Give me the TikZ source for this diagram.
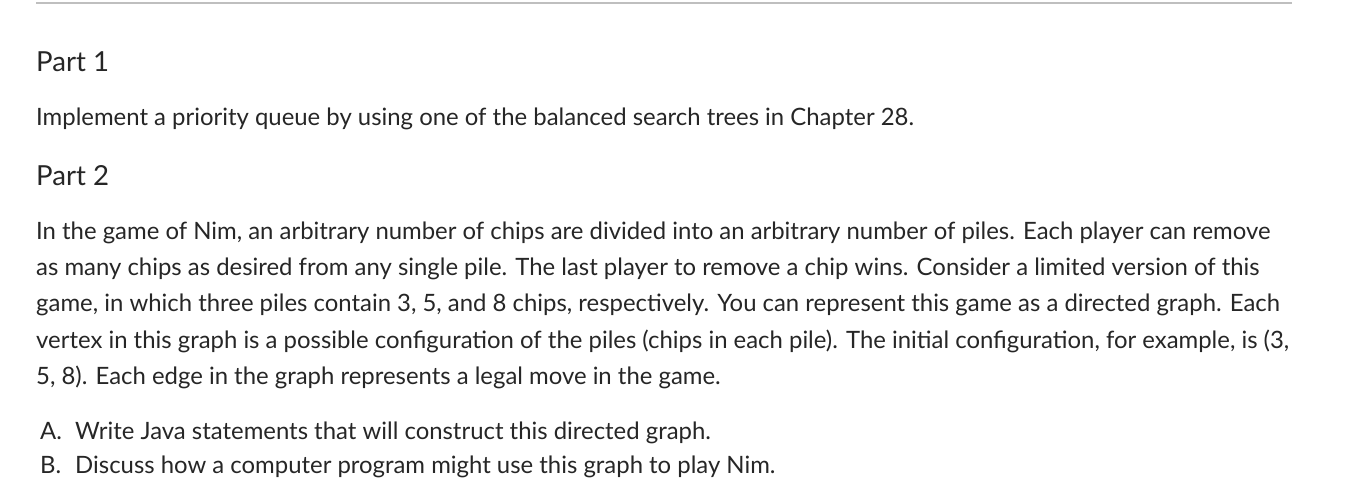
\documentclass[tikz,border=0pt]{standalone}
\usepackage{fontspec}
\setmainfont{Lato}
\begin{document}
\begin{tikzpicture}[x=1pt,y=-1pt,
  body/.style={anchor=base west,inner sep=0pt,font=\fontsize{23.9}{28}\selectfont,text=black!85},
  head/.style={anchor=base west,inner sep=0pt,font=\fontsize{27.6}{32}\selectfont,text=black!85}]
\useasboundingbox (0,0) rectangle (1346,494);
\draw[black!25,line width=1.5pt] (36,3) -- (1292,3);
\node[head] (p1) at (36,72) {Part 1};
\node[body] (l0) at (36,126) {Implement a priority queue by using one of the balanced search trees in Chapter 28.};
\node[head] (p2) at (36,186) {Part 2};
\node[body] (l1) at (36,240) {In the game of Nim, an arbitrary number of chips are divided into an arbitrary number of piles. Each player can remove};
\node[body] (l2) at (36,276) {as many chips as desired from any single pile. The last player to remove a chip wins. Consider a limited version of this};
\node[body] (l3) at (36,312) {game, in which three piles contain 3, 5, and 8 chips, respectively. You can represent this game as a directed graph. Each};
\node[body] (l4) at (36,348) {vertex in this graph is a possible configuration of the piles (chips in each pile). The initial configuration, for example, is (3,};
\node[body] (l5) at (36,384) {5, 8). Each edge in the graph represents a legal move in the game.};
\node[body] (a) at (40,439) {A.};
\node[body] (at) at (75,439) {Write Java statements that will construct this directed graph.};
\node[body] (b) at (40,473) {B.};
\node[body] (bt) at (75,473) {Discuss how a computer program might use this graph to play Nim.};
\end{tikzpicture}
\end{document}
